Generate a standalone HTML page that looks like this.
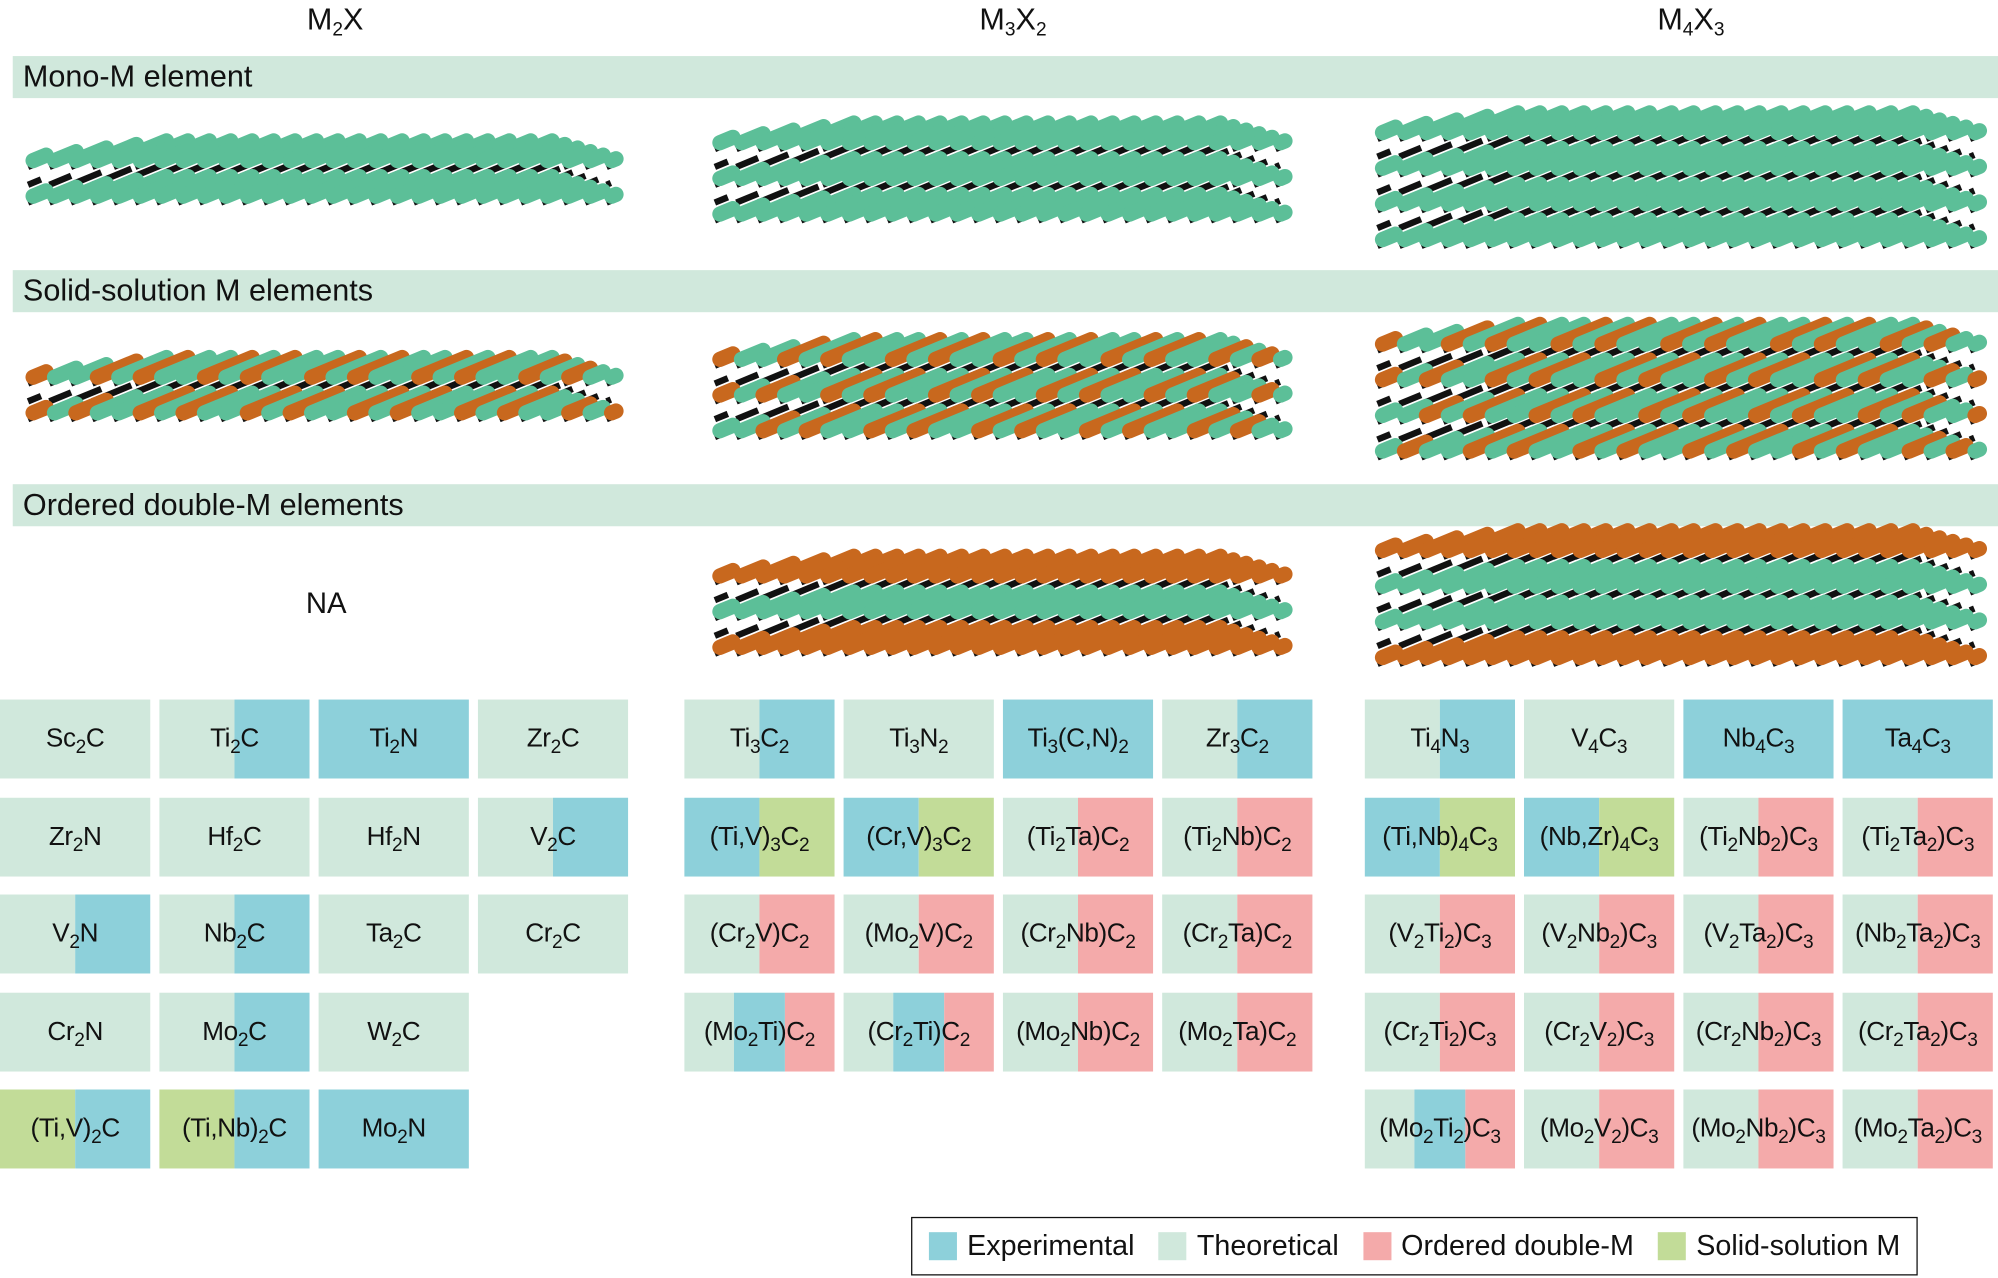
<!DOCTYPE html>
<html><head><meta charset="utf-8">
<style>
html,body{margin:0;padding:0;background:#fff;width:1998px;height:1278px;overflow:hidden}
#wrap{position:absolute;left:0;top:0;width:1568px;height:1003px;transform:scale(1.27423);transform-origin:0 0;font-family:"Liberation Sans",sans-serif;color:#111}
.hdr{position:absolute;top:2px;font-size:24px;transform:translateX(-50%)}
.band{position:absolute;left:10px;width:1558px;height:33px;background:#d0e8dc;font-size:24px;line-height:33px;padding-left:8px;box-sizing:border-box}
.cell{position:absolute;width:118px;height:62px;display:flex;overflow:hidden}
.cell .seg{height:100%}
.cell .lab{position:absolute;left:0;top:0;width:100%;height:100%;display:flex;align-items:center;justify-content:center;font-size:20.5px;white-space:nowrap;letter-spacing:-0.3px}
sub{font-size:15px;vertical-align:-5px;line-height:0}
.T{background:#d0e8dc}.E{background:#8dd0da}.O{background:#f4aaaa}.S{background:#c2dc98}
#legend{position:absolute;left:715px;top:955px;width:790px;height:46px;border:1.5px solid #111;box-sizing:border-box;font-size:22.5px;display:flex;align-items:center}
.lk{display:inline-block;width:22px;height:22px;margin:0 8px 0 13px}
</style></head><body>
<div id="wrap">
<div class="hdr" style="left:263px">M<sub>2</sub>X</div>
<div class="hdr" style="left:795px">M<sub>3</sub>X<sub>2</sub></div>
<div class="hdr" style="left:1327px">M<sub>4</sub>X<sub>3</sub></div>
<div class="band" style="top:44px">Mono-M element</div>
<div class="band" style="top:212px">Solid-solution M elements</div>
<div class="band" style="top:380px">Ordered double-M elements</div>
<div style="position:absolute;left:256px;top:460px;font-size:23px;transform:translateX(-50%)">NA</div>
<svg id="structs" width="1568" height="540" style="position:absolute;left:0;top:0"></svg>
<div id="cells"></div>
<div id="legend">
<span class="lk E"></span><span style="margin-right:6px">Experimental</span>
<span class="lk T"></span><span style="margin-right:6px">Theoretical</span>
<span class="lk O"></span><span style="margin-right:6px">Ordered double-M</span>
<span class="lk S"></span><span>Solid-solution M</span>
</div>
</div>
<script>
const groupX=[0,537,1071];
const colOff=[0,125,250,375];
const rowY=[549,626,702,779,855];
const m2x=[
[["Sc<sub>2</sub>C","T"],["Ti<sub>2</sub>C","TE"],["Ti<sub>2</sub>N","E"],["Zr<sub>2</sub>C","T"]],
[["Zr<sub>2</sub>N","T"],["Hf<sub>2</sub>C","T"],["Hf<sub>2</sub>N","T"],["V<sub>2</sub>C","TE"]],
[["V<sub>2</sub>N","TE"],["Nb<sub>2</sub>C","TE"],["Ta<sub>2</sub>C","T"],["Cr<sub>2</sub>C","T"]],
[["Cr<sub>2</sub>N","T"],["Mo<sub>2</sub>C","TE"],["W<sub>2</sub>C","T"]],
[["(Ti,V)<sub>2</sub>C","SE"],["(Ti,Nb)<sub>2</sub>C","SE"],["Mo<sub>2</sub>N","E"]]];
const m3x2=[
[["Ti<sub>3</sub>C<sub>2</sub>","TE"],["Ti<sub>3</sub>N<sub>2</sub>","T"],["Ti<sub>3</sub>(C,N)<sub>2</sub>","E"],["Zr<sub>3</sub>C<sub>2</sub>","TE"]],
[["(Ti,V)<sub>3</sub>C<sub>2</sub>","ES"],["(Cr,V)<sub>3</sub>C<sub>2</sub>","ES"],["(Ti<sub>2</sub>Ta)C<sub>2</sub>","TO"],["(Ti<sub>2</sub>Nb)C<sub>2</sub>","TO"]],
[["(Cr<sub>2</sub>V)C<sub>2</sub>","TO"],["(Mo<sub>2</sub>V)C<sub>2</sub>","TO"],["(Cr<sub>2</sub>Nb)C<sub>2</sub>","TO"],["(Cr<sub>2</sub>Ta)C<sub>2</sub>","TO"]],
[["(Mo<sub>2</sub>Ti)C<sub>2</sub>","TEO"],["(Cr<sub>2</sub>Ti)C<sub>2</sub>","TEO"],["(Mo<sub>2</sub>Nb)C<sub>2</sub>","TO"],["(Mo<sub>2</sub>Ta)C<sub>2</sub>","TO"]]];
const m4x3=[
[["Ti<sub>4</sub>N<sub>3</sub>","TE"],["V<sub>4</sub>C<sub>3</sub>","T"],["Nb<sub>4</sub>C<sub>3</sub>","E"],["Ta<sub>4</sub>C<sub>3</sub>","E"]],
[["(Ti,Nb)<sub>4</sub>C<sub>3</sub>","ES"],["(Nb,Zr)<sub>4</sub>C<sub>3</sub>","ES"],["(Ti<sub>2</sub>Nb<sub>2</sub>)C<sub>3</sub>","TO"],["(Ti<sub>2</sub>Ta<sub>2</sub>)C<sub>3</sub>","TO"]],
[["(V<sub>2</sub>Ti<sub>2</sub>)C<sub>3</sub>","TO"],["(V<sub>2</sub>Nb<sub>2</sub>)C<sub>3</sub>","TO"],["(V<sub>2</sub>Ta<sub>2</sub>)C<sub>3</sub>","TO"],["(Nb<sub>2</sub>Ta<sub>2</sub>)C<sub>3</sub>","TO"]],
[["(Cr<sub>2</sub>Ti<sub>2</sub>)C<sub>3</sub>","TO"],["(Cr<sub>2</sub>V<sub>2</sub>)C<sub>3</sub>","TO"],["(Cr<sub>2</sub>Nb<sub>2</sub>)C<sub>3</sub>","TO"],["(Cr<sub>2</sub>Ta<sub>2</sub>)C<sub>3</sub>","TO"]],
[["(Mo<sub>2</sub>Ti<sub>2</sub>)C<sub>3</sub>","TEO"],["(Mo<sub>2</sub>V<sub>2</sub>)C<sub>3</sub>","TO"],["(Mo<sub>2</sub>Nb<sub>2</sub>)C<sub>3</sub>","TO"],["(Mo<sub>2</sub>Ta<sub>2</sub>)C<sub>3</sub>","TO"]]];
const groups=[m2x,m3x2,m4x3];
const cont=document.getElementById('cells');
groups.forEach((g,gi)=>g.forEach((row,ri)=>row.forEach((c,ci)=>{
  const d=document.createElement('div');
  d.className='cell';
  
  
  d.style.left=(groupX[gi]+colOff[ci])+'px';
  d.style.top=rowY[ri]+'px';
  const segs=c[1];
  for(const s of segs){const e=document.createElement('div');e.className='seg '+s;e.style.width=(100/segs.length)+'%';d.appendChild(e);}
  const l=document.createElement('div');l.className='lab';
  
  
  const sp=document.createElement('span');sp.innerHTML=c[0];l.appendChild(sp);
  d.appendChild(l);cont.appendChild(d);
})));
const svg=document.getElementById('structs');const NS='http://www.w3.org/2000/svg';
function el(t,a){const e=document.createElementNS(NS,t);for(const k in a)e.setAttribute(k,a[k]);svg.appendChild(e);return e;}
const teal='#5cbf98',orange='#c8681e';
function struct(x0,x1,yc,layers,mode){
  const gap=14, w=x1-x0-20, n=Math.round(w/17), sp=w/n;
  const top=yc-(layers-1)*gap/2;
  const L=k=>Math.min(1,Math.min(k+1,n-k)/5)*40+4;
  for(let j=0;j<layers;j++){
    const y=top+j*gap;
    for(let k=0;k<=n;k++){
      const x=x0+4+k*sp;const len=L(k);
      el('line',{x1:x,y1:y+5,x2:x+len*0.85,y2:y-len*0.35+5,stroke:'#111','stroke-width':5});
    }
  }
  for(let j=0;j<layers;j++){
    const y=top+j*gap;
    if(j%2==1 && layers>2) continue;
    let col=teal;
    if(mode=='ord'&&(j==0||j==layers-1))col=orange;
    for(let k=0;k<=n;k++){
      const x=x0+8+k*sp;
      let c=col;
      if(mode=='ss'&&((k*7+j*3)%5<2))c=orange;
      const len=L(k);
      el('line',{x1:x,y1:y,x2:x+len*0.85,y2:y-len*0.35,stroke:c,'stroke-width':12,'stroke-linecap':'round'});
    }
  }
}
struct(18,492,140,3,'mono');struct(557,1017,140,5,'mono');struct(1077,1562,146,7,'mono');
struct(18,492,310,3,'ss');struct(557,1017,310,5,'ss');struct(1077,1562,312,7,'ss');
struct(557,1017,480,5,'ord');struct(1077,1562,474,7,'ord');
</script>
</body></html>
